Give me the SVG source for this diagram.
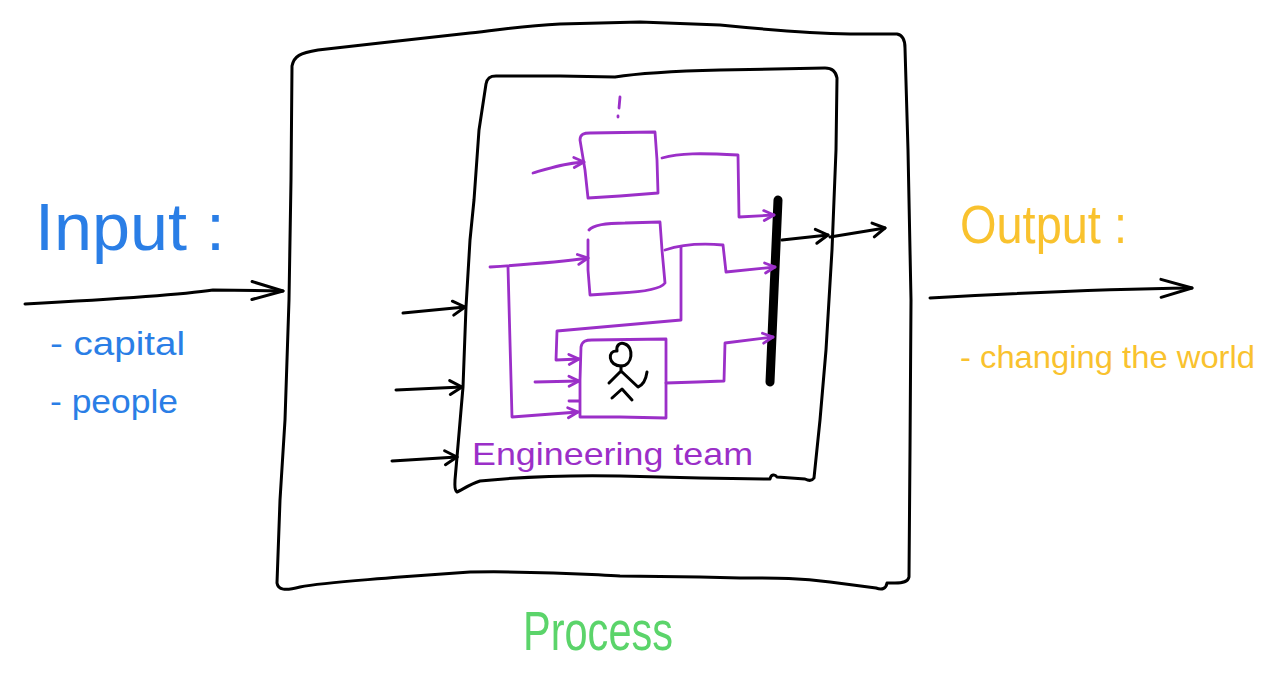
<svg xmlns="http://www.w3.org/2000/svg" width="1275" height="685" viewBox="0 0 1275 685">
<style>
.ink{fill:none;stroke:#000;stroke-width:3;stroke-linecap:round;stroke-linejoin:round}
.pur{fill:none;stroke:#9B2FC8;stroke-width:2.8;stroke-linecap:round;stroke-linejoin:round}
.hand{font-family:"Liberation Sans","DejaVu Sans",sans-serif}
</style>
<defs>
<marker id="big" markerUnits="userSpaceOnUse" viewBox="-40 -20 50 40" markerWidth="50" markerHeight="40" refX="0" refY="0" orient="auto">
<path d="M -31,-9 L 0,0 L -31,9" fill="none" stroke="#000" stroke-width="3" stroke-linecap="round" stroke-linejoin="round"/>
</marker>
<marker id="small" markerUnits="userSpaceOnUse" viewBox="-20 -15 30 30" markerWidth="30" markerHeight="30" refX="0" refY="0" orient="auto">
<path d="M -12,-7 L 0,0 L -12,7" fill="none" stroke="#000" stroke-width="3" stroke-linecap="round" stroke-linejoin="round"/>
</marker>
<marker id="parr" markerUnits="userSpaceOnUse" viewBox="-20 -15 30 30" markerWidth="30" markerHeight="30" refX="0" refY="0" orient="auto">
<path d="M -10,-5 L 0,0 L -10,5" fill="none" stroke="#9B2FC8" stroke-width="2.8" stroke-linecap="round" stroke-linejoin="round"/>
</marker>
</defs>
<rect width="1275" height="685" fill="#fff"/>

<g id="process">
<path class="ink" d="M 292,66 C 294,56 300,53 318,50 L 380,43 L 470,33 C 500,30 520,26 560,24 L 640,22 L 720,25 C 760,29 800,33 850,34 L 897,34 C 903,35 905,41 905,48 L 908,150 L 911,300 L 910,450 L 909,577 C 908,582 903,583 895,583 L 887,583 C 886,589 882,590 876,588 L 830,582 C 800,578 780,578 740,578 L 700,577 L 620,576 C 580,574 550,571 470,572 L 400,577 C 340,582 320,583 300,587 C 285,591 278,590 277,583 L 280,500 L 285,420 L 289,300 L 291,180 Z"/>
<text class="hand" x="523" y="650" font-size="56" fill="#5BD46A" textLength="150" lengthAdjust="spacingAndGlyphs">Process</text>
</g>

<g id="engineering-team">
<path class="ink" d="M 486,84 C 487,78 490,76 496,76 L 560,76 L 615,77 C 640,73 680,71 720,70 L 825,68 C 833,68 836,72 837,78 L 836,150 L 832,250 L 826,350 L 820,420 L 814,478 C 812,481 809,481 805,479 L 777,477 C 775,474 771,474 770,479 L 700,478 L 620,476 C 570,475 520,477 480,481 C 470,484 462,490 457,492 C 454,490 455,485 455,480 L 457,457 L 463,387 L 466,307 L 470,240 L 474,200 L 479,130 Z"/>
<path class="pur" d="M 620,97 L 619,108 M 618,116 L 618,117"/>
<text class="hand" x="472" y="465" font-size="32" fill="#9B2FC8" textLength="281" lengthAdjust="spacingAndGlyphs">Engineering team</text>
</g>

<g id="box-a">
<path class="pur" d="M 580,140 C 580,134 584,133 590,133 L 655,132 L 657,160 L 658,193 L 620,196 L 588,198 L 585,170 Z"/>
</g>

<g id="box-b">
<path class="pur" d="M 589,230 C 594,224 610,223 625,223 L 660,222 L 662,250 L 665,283 C 660,290 640,292 620,293 L 590,295 L 588,270 L 588,240"/>
</g>

<g id="box-c">
<path class="pur" d="M 581,347 C 582,341 586,340 592,340 L 666,339 L 666,380 L 666,418 L 620,417 L 580,417 L 580,380 Z"/>
<g id="person">
<path class="ink" stroke-width="2.6" d="M 617,351 C 607,350 608,366 621,366 C 633,366 634,347 625,344 C 620,342 616,345 617,351 Z"/>
<path class="ink" stroke-width="2.6" d="M 621,366 L 621,372 M 621,371 L 609,383 M 621,371 L 638,387 C 643,385 646,379 647,372 M 612,398 L 622,389 L 632,400"/>
</g>
</g>

<g id="collector">
<path d="M 778,200 L 770,382" fill="none" stroke="#000" stroke-width="9" stroke-linecap="round"/>
</g>

<g id="input-label">
<text class="hand" x="35" y="250" font-size="66" fill="#2A7EE6" textLength="190" lengthAdjust="spacingAndGlyphs">Input :</text>
<text class="hand" x="50" y="355" font-size="34" fill="#2A7EE6" textLength="135" lengthAdjust="spacingAndGlyphs">- capital</text>
<text class="hand" x="50" y="413" font-size="34" fill="#2A7EE6" textLength="128" lengthAdjust="spacingAndGlyphs">- people</text>
</g>

<g id="output-label">
<text class="hand" x="960" y="243" font-size="54" fill="#F9C22E" textLength="167" lengthAdjust="spacingAndGlyphs">Output :</text>
<text class="hand" x="960" y="368" font-size="32" fill="#F9C22E" textLength="295" lengthAdjust="spacingAndGlyphs">- changing the world</text>
</g>

<g id="connectors">
<path class="ink" marker-end="url(#big)" d="M 25,304 C 100,300 180,295 213,290 L 283,291"/>
<path class="ink" marker-end="url(#small)" d="M 403,313 L 465,307"/>
<path class="ink" marker-end="url(#small)" d="M 396,390 L 462,387"/>
<path class="ink" marker-end="url(#small)" d="M 392,461 L 457,457"/>
<path class="ink" marker-end="url(#small)" d="M 782,240 L 828,235"/>
<path class="ink" marker-end="url(#small)" d="M 830,237 L 885,228"/>
<path class="ink" marker-end="url(#big)" d="M 930,298 C 1000,294 1100,289 1192,288"/>

<path class="pur" marker-end="url(#parr)" d="M 533,173 C 550,168 565,163 584,162"/>
<path class="pur" marker-end="url(#parr)" d="M 662,158 C 680,153 700,153 738,155 L 739,217 L 774,215"/>
<path class="pur" marker-end="url(#parr)" d="M 490,267 C 520,265 560,262 588,258"/>
<path class="pur" marker-end="url(#parr)" d="M 508,267 L 512,417 L 578,412"/>
<path class="pur" marker-end="url(#parr)" d="M 665,250 C 680,245 700,243 723,245 L 726,272 L 775,267"/>
<path class="pur" marker-end="url(#parr)" d="M 681,247 L 681,320 L 557,331 L 556,360 L 579,359"/>
<path class="pur" marker-end="url(#parr)" d="M 535,382 L 579,381"/>
<path class="pur" d="M 569,401 L 579,401"/>
<path class="pur" marker-end="url(#parr)" d="M 666,383 L 697,382 L 724,381 L 725,343 L 773,337"/>
</g>
</svg>
